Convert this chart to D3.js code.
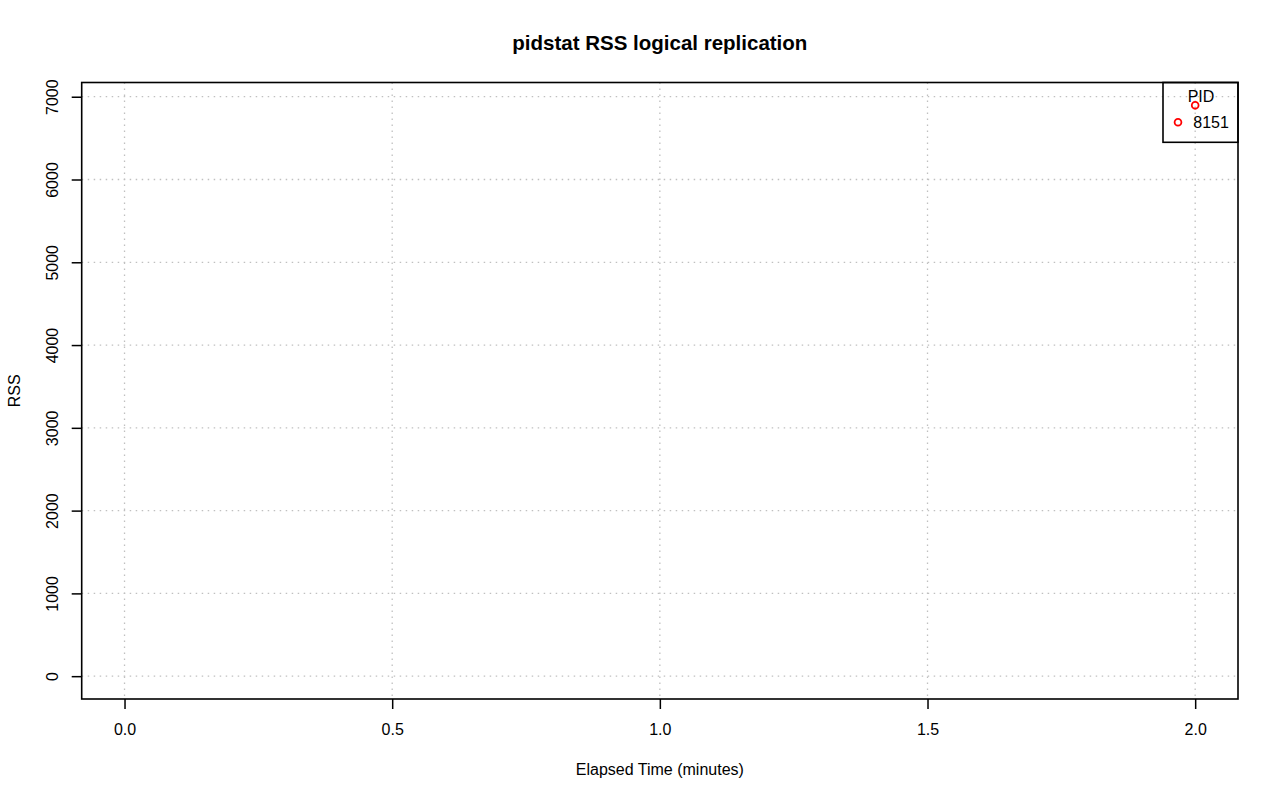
<!DOCTYPE html>
<html>
<head>
    <meta charset="utf-8">
    <title>pidstat RSS logical replication</title>
    <script type="text/javascript" src="https://cdn.jsdelivr.net/npm/d3@7"></script>
    <style>
        body { margin: 0; background: #fff; }
        text { font-family: "Liberation Sans", Arial, Helvetica, sans-serif; fill: #000; }
    </style>
</head>
<body>
<script type="text/javascript">
    // data
    var pids = ["8151"]
    var elapsed = [2.0]      // minutes
    var rss = [6896]
    var xTicks = [0, 0.5, 1.0, 1.5, 2.0]
    var yTicks = [0, 1000, 2000, 3000, 4000, 5000, 6000, 7000]
    var colors = ["#ff0000"]

    var width = 1280
    var height = 801
    var plot = {left: 81.7, right: 1238, top: 82.5, bottom: 699}
    var fs = "16px"

    var svg = d3.select("body").append("svg")
        .attr("width", width)
        .attr("height", height)

    // R style 4% padding on the axis ranges
    function pad(lo, hi) { var d = (hi - lo) * 0.04; return [lo - d, hi + d] }

    var x = d3.scaleLinear().domain(pad(0, d3.max(elapsed))).range([plot.left, plot.right])
    var y = d3.scaleLinear().domain(pad(0, d3.max(rss))).range([plot.bottom, plot.top])

    // grid
    svg.append("g").selectAll("line").data(xTicks).enter().append("line")
        .attr("x1", function(d) { return x(d) }).attr("x2", function(d) { return x(d) })
        .attr("y1", plot.top).attr("y2", plot.bottom)
        .attr("stroke", "#c0c0c0").attr("stroke-width", 1.3).attr("stroke-dasharray", "1.5,4.5")
    svg.append("g").selectAll("line").data(yTicks).enter().append("line")
        .attr("y1", function(d) { return y(d) }).attr("y2", function(d) { return y(d) })
        .attr("x1", plot.left).attr("x2", plot.right)
        .attr("stroke", "#c0c0c0").attr("stroke-width", 1.3).attr("stroke-dasharray", "1.5,4.5")

    // axes
    var xAxis = svg.append("g")
        .attr("transform", "translate(0," + plot.bottom + ")")
        .call(d3.axisBottom(x).tickValues(xTicks).tickFormat(d3.format(".1f")).tickSize(10).tickPadding(14.3))
    xAxis.select(".domain").remove()
    xAxis.selectAll("text").style("font-size", fs)

    var yAxis = svg.append("g")
        .attr("transform", "translate(" + plot.left + ",0)")
        .call(d3.axisLeft(y).tickValues(yTicks).tickFormat(d3.format("d")).tickSize(10))
    yAxis.select(".domain").remove()
    yAxis.selectAll("text")
        .style("font-size", fs)
        .attr("text-anchor", "middle")
        .attr("x", null).attr("y", null)
        .attr("dy", "0.35em")
        .attr("transform", "translate(-29.2,0) rotate(-90)")
    svg.selectAll(".tick line").attr("stroke", "#000").attr("stroke-width", 1.5)

    // box
    svg.append("rect")
        .attr("x", plot.left).attr("y", plot.top)
        .attr("width", plot.right - plot.left).attr("height", plot.bottom - plot.top)
        .attr("fill", "none").attr("stroke", "#000").attr("stroke-width", 1.6)

    // points
    svg.append("g").selectAll("circle").data(rss).enter().append("circle")
        .attr("cx", function(d, i) { return x(elapsed[i]) })
        .attr("cy", function(d) { return y(d) })
        .attr("r", 3.4)
        .attr("fill", "none")
        .attr("stroke", function(d, i) { return colors[i] })
        .attr("stroke-width", 1.8)

    // titles
    svg.append("text").attr("x", (plot.left + plot.right) / 2).attr("y", 50)
        .attr("text-anchor", "middle").style("font-size", "20.5px").style("font-weight", "bold")
        .text("pidstat RSS logical replication")
    svg.append("text").attr("x", (plot.left + plot.right) / 2).attr("y", 775)
        .attr("text-anchor", "middle").style("font-size", fs)
        .text("Elapsed Time (minutes)")
    svg.append("text").attr("transform", "translate(14.5," + (plot.top + plot.bottom) / 2 + ") rotate(-90)")
        .attr("text-anchor", "middle").attr("dy", "0.35em").style("font-size", fs)
        .text("RSS")

    // legend
    var lg = svg.append("g")
    lg.append("rect").attr("x", 1163).attr("y", plot.top).attr("width", plot.right - 1163).attr("height", 142.3 - plot.top)
        .attr("fill", "none").attr("stroke", "#000").attr("stroke-width", 1.6)
    lg.append("text").attr("x", 1201).attr("y", 102.3).attr("text-anchor", "middle").style("font-size", fs).text("PID")
    var items = lg.selectAll("g.item").data(pids).enter().append("g")
        .attr("transform", function(d, i) { return "translate(0," + (122.3 + i * 19) + ")" })
    items.append("circle").attr("cx", 1178).attr("cy", 0).attr("r", 3.4)
        .attr("fill", "none").attr("stroke", function(d, i) { return colors[i] }).attr("stroke-width", 1.8)
    items.append("text").attr("x", 1193.3).attr("y", 5.6).style("font-size", fs).text(function(d) { return d })
</script>
</body>
</html>
